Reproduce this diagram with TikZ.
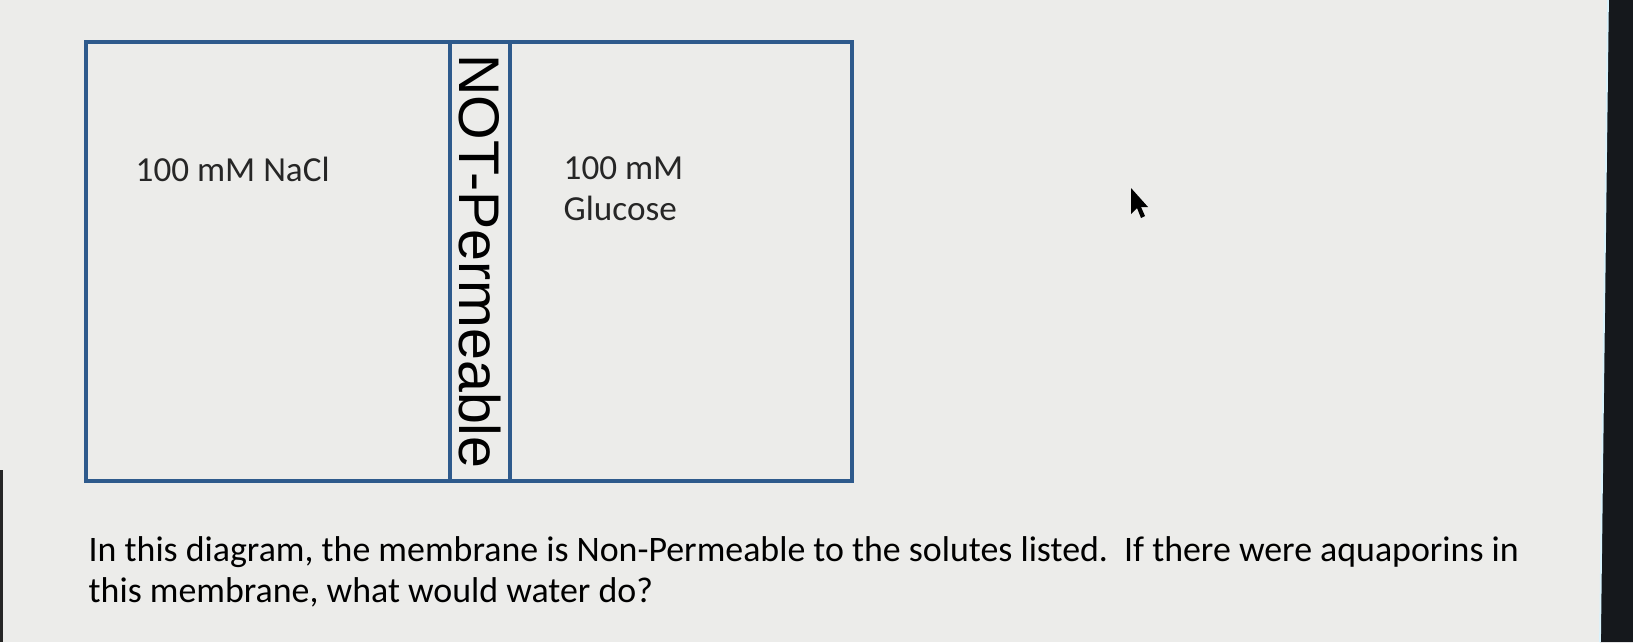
\documentclass[tikz,border=0pt]{standalone}
\usepackage{fontspec}
\setmainfont{Carlito}
\newfontfamily\arialfont{Liberation Sans}
\usetikzlibrary{positioning}
\definecolor{slidebg}{HTML}{ECECEA}
\definecolor{boxblue}{HTML}{2E5A8C}
\definecolor{bezel}{HTML}{15181C}
\begin{document}
\begin{tikzpicture}[x=0.01cm, y=-0.01cm,
	chamber/.style={draw=boxblue, line width=1.15pt, rectangle, minimum height=4.39cm, inner sep=0pt, outer sep=0pt},
	solute/.style={font=\fontsize{10}{11.7}\selectfont, text=black!85, align=left, anchor=north west, inner sep=0pt}]
		\useasboundingbox (0,0) rectangle (1633,642);
		\fill [slidebg] (0,0) rectangle (1633,642);
		\fill [bezel] (1608,0) -- (1633,0) -- (1633,642) -- (1600,642) -- cycle;
		\draw [line width=0.5pt, cyan!15!white] (1608,0) -- (1600,642);
		\fill [black!85] (0,470) rectangle (3,642);
		\node [chamber, minimum width=3.64cm](left) at (268,261.5) {};
		\node [chamber, minimum width=0.6cm, right=0pt of left](membrane) {};
		\node [chamber, minimum width=3.42cm, right=0pt of membrane](right) {};
		\node [rotate=-90, font=\arialfont\fontsize{16.3}{16.3}\selectfont](perm) at (membrane.center) {NOT-Permeable};
		\node [solute](nacl) at (135,156) {100 mM NaCl};
		\node [solute](glucose) at (563,156) {100 mM\\Glucose};
		\node [anchor=north west, inner sep=0pt, align=left, font=\fontsize{10.2}{11.5}\selectfont](question) at (88,536) {In this diagram, the membrane is Non-Permeable to the solutes listed.\ \ If there were aquaporins in\\this membrane, what would water do?};
		\fill [black] (1131,188) -- (1131,214) -- (1137,208) -- (1141,218) -- (1145,216) -- (1141,207) -- (1148,207) -- cycle;
\end{tikzpicture}
\end{document}
